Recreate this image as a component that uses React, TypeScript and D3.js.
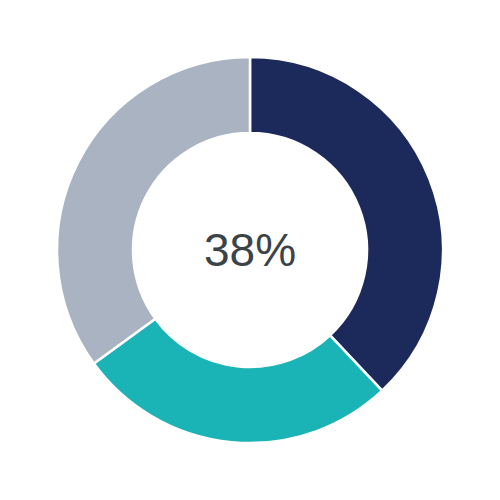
import { useEffect, useRef } from 'react'
import * as d3 from 'd3'

const labels = ['A', 'B', 'C']
const values = [38, 27, 35]
const colors = ['#1b2a5a', '#1bb4b6', '#a9b3c2']
const centerLabel = '38%'

export default function App() {
  const svgRef = useRef<SVGSVGElement>(null)

  useEffect(() => {
    if (!svgRef.current) return
    const width = 500
    const height = 500
    const svg = d3.select(svgRef.current)
    svg.selectAll('*').remove()

    const outer = 193
    const inner = 117
    const g = svg.append('g').attr('transform', `translate(${width / 2},${height / 2})`)

    const pie = d3.pie<number>().sort(null).value((d) => d)
    const arc = d3.arc<d3.PieArcDatum<number>>().innerRadius(inner).outerRadius(outer)

    g.selectAll('path')
      .data(pie(values))
      .join('path')
      .attr('d', arc)
      .attr('fill', (_, i) => colors[i])
      .attr('stroke', '#fff')
      .attr('stroke-width', 2.5)
      .append('title')
      .text((_, i) => labels[i])

    g.append('text')
      .attr('x', 0)
      .attr('y', 0)
      .attr('dy', '0.35em')
      .attr('text-anchor', 'middle')
      .style('font-family', '"Liberation Sans", Arial, sans-serif')
      .style('font-size', '46px')
      .style('fill', '#3c4347')
      .text(centerLabel)
  }, [])

  return (
    <svg
      ref={svgRef}
      width={500}
      height={500}
      style={{ position: 'absolute', left: 0, top: 0 }}
    />
  )
}
